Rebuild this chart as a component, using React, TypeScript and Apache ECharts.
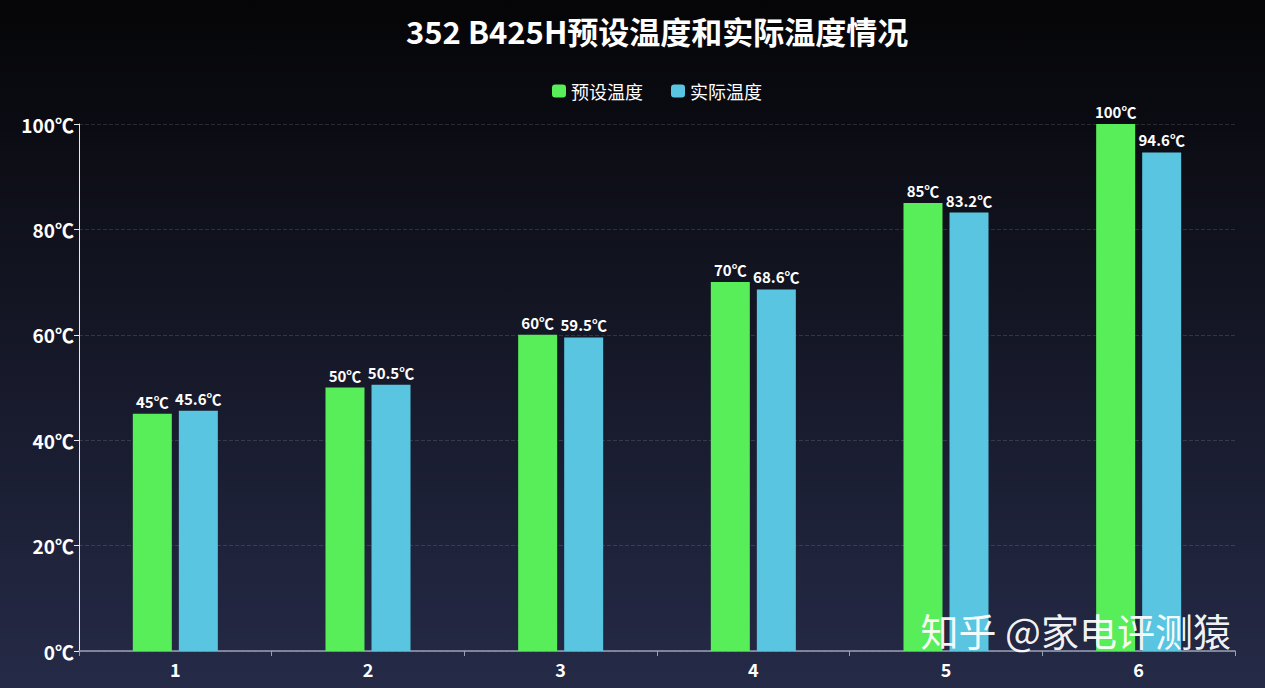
import React, { useEffect, useRef } from "react";
import * as echarts from "echarts";

const categories = ["1", "2", "3", "4", "5", "6"];
const presetTemps = [45, 50, 60, 70, 85, 100];
const actualTemps = [45.6, 50.5, 59.5, 68.6, 83.2, 94.6];
const seriesNames = ["预设温度", "实际温度"];
const titleText = "352 B425H预设温度和实际温度情况";
const watermarkText = "知乎 @家电评测猿";

const FONT = "'Noto Sans CJK SC', 'Noto Sans', sans-serif";

export default function App() {
  const ref = useRef<HTMLDivElement>(null);
  useEffect(() => {
    if (!ref.current) return;
    const chart = echarts.init(ref.current, null, { renderer: "svg" });
    const labelCfg = {
      show: true,
      position: "top" as const,
      distance: 5,
      color: "#ffffff",
      fontWeight: "bold" as const,
      fontSize: 15,
      fontFamily: FONT,
      formatter: (p: any) => `${p.value}℃`,
    };
    chart.setOption({
      animation: false,
      backgroundColor: new echarts.graphic.LinearGradient(0, 0, 0, 1, [
        { offset: 0, color: "#050507" },
        { offset: 1, color: "#252a47" },
      ]),
      textStyle: { fontFamily: FONT },
      title: {
        text: titleText,
        left: 401,
        top: 10,
        textStyle: { color: "#ffffff", fontSize: 31, fontWeight: "bold", fontFamily: FONT },
      },
      legend: {
        data: seriesNames,
        top: 77,
        left: 547,
        itemWidth: 14,
        itemHeight: 13,
        itemGap: 28,
        icon: "roundRect",
        textStyle: { color: "#ffffff", fontSize: 18, fontFamily: FONT },
      },
      grid: { left: 79, right: 30, top: 124, bottom: 37, containLabel: false },
      xAxis: {
        type: "category",
        data: categories,
        axisLine: { lineStyle: { color: "#9aa0b4", width: 1.5 } },
        axisTick: { show: true, lineStyle: { color: "#9aa0b4" } },
        axisLabel: { color: "#ffffff", fontSize: 18, fontWeight: "bold", margin: 9, fontFamily: FONT },
      },
      yAxis: {
        type: "value",
        min: 0,
        max: 100,
        interval: 20,
        axisLine: { show: true, lineStyle: { color: "#e8e8ee", width: 1 } },
        axisTick: { show: true, length: 5, lineStyle: { color: "#e8e8ee" } },
        axisLabel: {
          color: "#ffffff",
          fontSize: 19,
          fontWeight: "bold",
          margin: 5,
          fontFamily: FONT,
          formatter: (v: number) => `${v}℃`,
        },
        splitLine: { show: true, lineStyle: { color: "rgba(255,255,255,0.13)", type: "dashed" } },
      },
      series: [
        {
          name: seriesNames[0],
          type: "bar",
          data: presetTemps,
          barWidth: 39,
          barGap: "18%",
          itemStyle: { color: "#58ee5a" },
          label: labelCfg,
        },
        {
          name: seriesNames[1],
          type: "bar",
          data: actualTemps,
          barWidth: 39,
          itemStyle: { color: "#5ac5e0" },
          label: labelCfg,
        },
      ],
      graphic: [
        {
          type: "text",
          right: 34,
          top: 610,
          z: 100,
          style: {
            text: watermarkText,
            fill: "rgba(255,255,255,0.95)",
            fontSize: 38,
            fontFamily: FONT,
            shadowColor: "rgba(0,0,0,0.5)",
            shadowBlur: 3,
            shadowOffsetX: 2,
            shadowOffsetY: 2,
          },
        },
      ],
    });
    return () => chart.dispose();
  }, []);
  return (
    <div
      ref={ref}
      style={{ position: "fixed", left: 0, top: 0, width: 1265, height: 688 }}
    />
  );
}
